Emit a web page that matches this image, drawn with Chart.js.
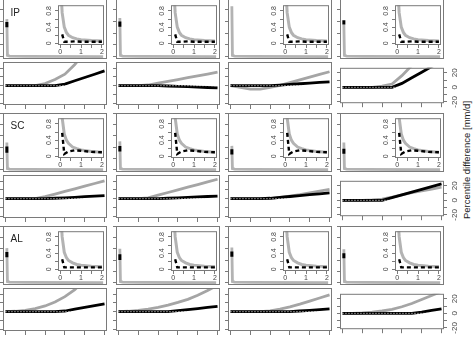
<!DOCTYPE html>
<html>
<head>
<meta charset="utf-8">
<script src="https://cdn.jsdelivr.net/npm/chart.js@4.4.1/dist/chart.umd.min.js"></script>
<style>
  body { margin: 0; background: #fff; width: 474px; height: 338px; overflow: hidden; position: relative; }
  canvas { position: absolute; }
  .tag { position: absolute; font: 10px "Liberation Sans", Arial, sans-serif; line-height: 10px; color: #222; }
  #ytitle { position: absolute; width: 200px; text-align: center; font: 9.5px "Liberation Sans", Arial, sans-serif;
            line-height: 10px; color: #222; transform: rotate(-90deg); transform-origin: 50% 50%; }
</style>
</head>
<body>
<div id="ytitle">Percentile difference [mm/d]</div>
<script>
const ROWS = ["IP", "SC", "AL"];
const PCT = [0, 10, 20, 30, 40, 50, 60, 70, 80, 90, 100];

// percentile differences, one array per column
const ipGrey = [
  [0, 0, 0, 0, 2.5, 7, 13, 24, 38, 55, 75],
  [0, 0, 0, 0.8, 2.9, 5, 7, 9.1, 11.2, 13.2, 15.3],
  [0, -2, -3.8, -3.8, -2, 0.5, 3.6, 6.7, 9.7, 12.7, 15.8],
  [0, 0, 0, 0, 1.5, 4.5, 16, 30, 46, 62, 78]
];
const ipBlack = [
  [0, 0, 0, 0, 0, 0, 1.9, 5.6, 9.3, 13, 16.8],
  [0, 0, 0, 0, 0, -0.3, -0.7, -1.1, -1.5, -2, -2.5],
  [0, 0, 0, 0, 0, 0.7, 1.5, 2.2, 3, 3.7, 4.4],
  [0, 0, 0, 0, 0, 0, 5.4, 13.1, 20.8, 28.5, 36]
];
const scGrey = [
  [0, 0, 0, 0, 2.4, 5.3, 8.3, 11.2, 14.2, 17.2, 20.2],
  [0, 0, 0, 1, 4, 7, 10, 13, 16, 19, 22],
  [0, 0, 0, 0, 0, 1.5, 3, 4.5, 6.5, 8.5, 10.5],
  [0, 0, 0, 0.5, 1.5, 4.3, 7.5, 10.5, 13, 15.5, 18]
];
const scBlack = [
  [0, 0, 0, 0, 0, 0.5, 1, 1.6, 2.3, 2.9, 3.6],
  [0, 0, 0, 0, 0, 0.5, 1, 1.5, 2, 2.5, 3],
  [0, 0, 0, 0, 0.5, 1.5, 2.5, 3.5, 4.5, 5.5, 6.5],
  [0, 0, 0, 0, 0, 3.8, 7.5, 11.3, 15, 18.8, 22.6]
];
const alGrey = [
  [0, 0.5, 1.5, 3.5, 6.5, 11, 17, 25, 36, 50, 68],
  [0, 0.5, 1.5, 3, 5, 7.5, 10.5, 14, 18.5, 24, 30],
  [0, 0, 0, 0, 1, 3, 5.5, 8.5, 12, 15.5, 19],
  [0, 0, 0.5, 1.5, 3.2, 5.5, 9, 13.5, 19, 24.5, 30]
];
const alBlack = [
  [0, 0, 0, 0, 0, 0, 0.8, 2.8, 4.8, 6.9, 8.9],
  [0, 0, 0, 0, 0, 0, 1.2, 2.4, 3.6, 4.8, 6],
  [0, 0, 0, 0, 0, 0, 0, 0.8, 1.6, 2.4, 3.2],
  [0, 0, 0, 0, 0, 0, 0, 0, 1.6, 3.9, 6.2]
];

// density panels: grey spike at zero, rows x columns
const spikeGrey = [
  [0.64, 0.66, 0.86, 0.55],
  [0.48, 0.50, 0.42, 0.48],
  [0.61, 0.60, 0.62, 0.59]
];
// black mark at zero: top and bottom of the bar (null where none is drawn)
const barTop = [
  [0.59, 0.60, null, 0.62],
  [0.41, 0.42, 0.36, 0.37],
  [0.54, 0.50, 0.55, 0.52]
];
const barBottom = [
  [0.50, 0.51, null, 0.55],
  [0.30, 0.32, 0.27, 0.28],
  [0.45, 0.40, 0.46, 0.43]
];
const TAIL_X = [0.6, 3, 20, 100];
const TAIL_Y = [0.02, 0.01, 0.005, 0];

// zoomed density insets, one curve per row
const INSET_X = [0.05, 0.1, 0.2, 0.3, 0.4, 0.6, 0.8, 1, 1.5, 2];
const insetGrey = [
  [1.2, 0.75, 0.4, 0.27, 0.2, 0.14, 0.11, 0.09, 0.07, 0.06],
  [1.3, 0.95, 0.55, 0.4, 0.32, 0.23, 0.19, 0.16, 0.12, 0.1],
  [1.2, 0.8, 0.42, 0.29, 0.22, 0.16, 0.12, 0.1, 0.08, 0.07]
];
const INSET_BX = [0.1, 0.2, 0.4, 0.7, 1, 1.5, 2];
const insetBlack = [
  [0.22, 0.04, 0.04, 0.05, 0.04, 0.04, 0.04],
  [0.58, 0.06, 0.12, 0.15, 0.14, 0.11, 0.1],
  [0.25, 0.05, 0.05, 0.05, 0.05, 0.05, 0.05]
];

const COL_LEFT = [3, 116, 228, 340];
const ROW_TOP = [0, 113, 226];
const W = 104;
const FRAME = "#7a7a7a";
const GREY = "#a5a5a5";
const LIGHT = "#b3b3b3";

Chart.defaults.font.family = "'Liberation Sans', Arial, sans-serif";
Chart.defaults.color = "#444";
Chart.defaults.animation = false;
Chart.defaults.events = [];
Chart.defaults.plugins.legend.display = false;
Chart.defaults.plugins.tooltip.enabled = false;

const frame = {
  id: "frame",
  afterDatasetsDraw(chart) {
    const a = chart.chartArea, ctx = chart.ctx;
    ctx.save();
    ctx.setLineDash([]);
    ctx.strokeStyle = FRAME;
    ctx.lineWidth = 1;
    ctx.strokeRect(a.left + 0.5, a.top + 0.5, a.right - a.left - 1, a.bottom - a.top - 1);
    ctx.restore();
  }
};

// each axis gets a fixed band; a band of 0 lets tick marks spill into the padding
function axis(min, max, step, size, extra) {
  return Object.assign({
    type: "linear", min, max,
    afterFit: s => { if (s.isHorizontal()) s.height = size; else s.width = size; },
    ticks: { display: false, stepSize: step, includeBounds: false, autoSkip: false },
    grid: { drawOnChartArea: false, drawTicks: true, tickLength: 3, color: FRAME },
    border: { display: false }
  }, extra || {});
}

const NO_GRID = { grid: { drawOnChartArea: false, drawTicks: false } };

function pts(xs, ys) {
  return xs.map((x, i) => ({ x, y: ys[i] }));
}

function line(data, color, width, dash) {
  return { data, borderColor: color, borderWidth: width, borderDash: dash || [],
           pointRadius: 0, tension: 0, clip: 0, fill: false };
}

// box: canvas margins around the plot frame; space: part of them that is layout padding
function place(left, top, w, h, box, space, config, framed) {
  const cv = document.createElement("canvas");
  cv.width = w + box.l + box.r;
  cv.height = h + box.t + box.b;
  cv.style.left = (left - box.l) + "px";
  cv.style.top = (top - box.t) + "px";
  document.body.appendChild(cv);
  config.options.responsive = false;
  config.options.layout = { autoPadding: false,
    padding: { left: space.l, right: space.r, top: space.t, bottom: space.b } };
  config.plugins = framed === false ? [] : [frame];
  return new Chart(cv, config);
}

function upperPanel(left, top, r, c) {
  const grey = [{ x: 0, y: spikeGrey[r][c] }].concat(pts(TAIL_X, TAIL_Y));
  const box = { l: 4, r: 1, t: 1, b: 1 };
  // the first row is cut off at the top edge of the figure
  const lift = r === 0 ? 2 : 0;
  place(left, top - lift, W, 59 + lift, box, box, {
    type: "line",
    data: { datasets: [line(grey, LIGHT, 2.8)] },
    options: {
      scales: { x: axis(-4, 104, 20, 0, NO_GRID), y: axis(-0.04, 1.0, 0.2, 0) }
    }
  });
  if (barTop[r][c] === null) return;
  // black bar at zero, laid over the grey density on the same scales
  const bar = pts([0, 0], [barTop[r][c], barBottom[r][c]]);
  place(left, top - lift, W, 59 + lift, box, box, {
    type: "line",
    data: { datasets: [line(bar, "#000", 3)] },
    options: {
      scales: { x: axis(-4, 104, 20, 0, NO_GRID), y: axis(-0.04, 1.0, 0.2, 0, NO_GRID) }
    }
  }, false);
}

function insetPanel(left, top, r) {
  const shown = v => [0, 0.4, 0.8].some(t => Math.abs(v - t) < 1e-6);
  place(left, top, 46, 41, { l: 15, r: 2, t: 4, b: 12 }, { l: 0, r: 2, t: 4, b: 0 }, {
    type: "line",
    data: { datasets: [
      line(pts(INSET_BX, insetBlack[r]), "#000", 2.4, [4, 3]),
      line(pts(INSET_X, insetGrey[r]), LIGHT, 3)
    ] },
    options: {
      scales: {
        x: axis(-0.1, 2.1, 0.5, 12, {
          ticks: { display: true, stepSize: 0.5, includeBounds: false, autoSkip: false,
                   maxRotation: 0, padding: 0, font: { size: 7 },
                   callback: v => Number.isInteger(v) ? String(v) : "" }
        }),
        y: axis(-0.04, 0.94, 0.2, 15, {
          ticks: { display: true, stepSize: 0.2, includeBounds: false, autoSkip: false,
                   minRotation: 90, maxRotation: 90, crossAlign: "center", padding: 1,
                   font: { size: 7 }, callback: v => shown(v) ? String(Math.round(v * 10) / 10) : "" }
        })
      }
    }
  });
}

function lowerPanel(left, top, r, c) {
  const grey = [ipGrey, scGrey, alGrey][r][c];
  const black = [ipBlack, scBlack, alBlack][r][c];
  const scales = {
    x: axis(-2.5, 102.5, 20, 0, { grid: { drawOnChartArea: false, tickLength: 4, color: FRAME } }),
    y: axis(-21.8, 26.8, 10, 0)
  };
  const box = { l: 4, r: 1, t: 1, b: 5 };
  const space = { l: 4, r: 1, t: 1, b: 5 };
  if (c === 3) {
    scales.y2 = axis(-21.8, 26.8, 10, 18, {
      position: "right",
      ticks: { display: true, stepSize: 10, includeBounds: false, autoSkip: false,
               minRotation: 90, maxRotation: 90, crossAlign: "center", padding: 2,
               font: { size: 8 }, callback: v => v % 20 === 0 ? String(v) : "" }
    });
    box.r = 18;
    space.r = 0;
  }
  place(left, top, W, 43, box, space, {
    type: "line",
    data: { datasets: [
      line(pts([0, 100], [0, 0]), "#fff", 1, [1, 2]),
      line(pts(PCT, black), "#000", 2.8),
      line(pts(PCT, grey), GREY, 2.8)
    ] },
    options: { scales }
  });
}

ROWS.forEach((name, r) => {
  const top = ROW_TOP[r];
  COL_LEFT.forEach((left, c) => {
    upperPanel(left, top, r, c);
    insetPanel(left + 55, top + 4, r);
    lowerPanel(left, top + 62, r, c);
  });
  const tag = document.createElement("div");
  tag.className = "tag";
  tag.textContent = name;
  tag.style.left = "10.5px";
  tag.style.top = (top + 7.5) + "px";
  document.body.appendChild(tag);
});

const title = document.getElementById("ytitle");
title.style.left = (467 - 100) + "px";
title.style.top = (160 - 5) + "px";
</script>
</body>
</html>
